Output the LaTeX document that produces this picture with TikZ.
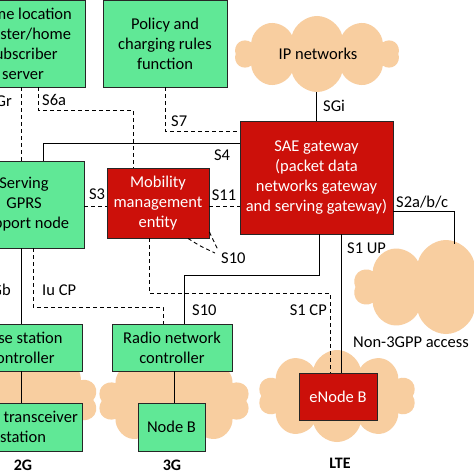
\documentclass[tikz,border=0pt]{standalone}
\usepackage{fontspec}
\setmainfont{Carlito}
\usetikzlibrary{shapes.symbols}
\definecolor{boxgreen}{RGB}{96,232,150}
\definecolor{boxred}{RGB}{204,16,10}
\definecolor{cloudc}{RGB}{248,206,160}
\begin{document}
\begin{tikzpicture}[x=1pt,y=-1pt,
 txt/.style={font=\fontsize{16.5}{20}\selectfont},
 gbox/.style={draw=black!85, line width=0.8pt, fill=boxgreen, align=center, txt, inner sep=0pt},
 rbox/.style={draw=black!85, line width=0.8pt, fill=boxred, text=white, align=center, txt, inner sep=0pt},
 cl/.style={cloud, cloud puffs=10, fill=cloudc, draw=none, inner sep=0pt},
 sl/.style={line width=0.9pt, black},
 dl/.style={line width=0.9pt, black, dash pattern=on 4pt off 3pt},
 lab/.style={txt, inner sep=0pt},
 gen/.style={font=\bfseries\fontsize{16}{18}\selectfont, inner sep=0pt}
]
\path[use as bounding box, clip] (0,0) rectangle (474,474);
\fill[white] (0,0) rectangle (474,474);
% clouds
\node[cl, minimum width=164pt, minimum height=76pt] (ip) at (317,54) {};
\node[txt] (iptxt) at (318,54) {IP networks};
\node[cl, minimum width=185pt, minimum height=94pt] (n3g) at (446,287) {};
\node[cl, minimum width=140pt, minimum height=95pt] (c2g) at (28,400) {};
\node[cl, minimum width=152pt, minimum height=92pt] (c3g) at (174,401) {};
\node[cl, minimum width=158pt, minimum height=92pt] (clte) at (337,396) {};
% boxes
\node[gbox, minimum width=124pt, minimum height=87pt] (hlr) at (23,43.5) {Home location\\register/home\\subscriber\\server};
\node[gbox, minimum width=124pt, minimum height=87pt] (pcrf) at (165,43.5) {Policy and\\charging rules\\function};
\node[rbox, minimum width=153pt, minimum height=113pt] (sae) at (316.5,177.5) {SAE gateway\\(packet data\\networks gateway\\and serving gateway)};
\node[rbox, minimum width=102pt, minimum height=70pt] (mme) at (158,203) {Mobility\\management\\entity};
\node[gbox, minimum width=120pt, minimum height=87pt] (sgsn) at (24,204.5) {Serving\\GPRS\\support node};
\node[gbox, minimum width=120pt, minimum height=47pt] (bsc) at (22,347.5) {Base station\\controller};
\node[gbox, minimum width=118pt, minimum height=48pt] (bts) at (23,427) {Base transceiver\\station};
\node[gbox, minimum width=120pt, minimum height=47pt] (rnc) at (172,347.5) {Radio network\\controller};
\node[gbox, minimum width=67pt, minimum height=48pt] (nodeb) at (171.5,427) {Node B};
\node[rbox, minimum width=78pt, minimum height=47pt] (enb) at (338,396.5) {eNode B};
% connectors
\draw[dl] (hlr.south -| 21,0) -- (sgsn.north -| 21,0);
\draw[dl] (hlr.south -| 38,0) -- ++(0,23) -| (mme.north -| 133,0);
\draw[dl] (pcrf.south -| 165,0) |- (sae.west |- 0,131);
\draw[sl] (sgsn.north -| 43,0) |- (sae.west |- 0,143);
\draw[sl] (ip.south -| 316,0) -- (sae.north -| 316,0);
\draw[dl] (sgsn.east |- 0,206) -- (mme.west |- 0,206);
\draw[dl] (mme.east |- 0,206) -- (sae.west |- 0,206);
\coordinate (s10a) at (215,253);
\coordinate (s10b) at (218,250);
\draw[dl] (mme.south -| 188,0) .. controls (200,246) .. (s10a);
\draw[dl] (mme.east |- 0,232) -- (s10b);
\draw[dl] (mme.south -| 149,0) -- ++(0,55) -| (enb.north -| 330,0);
\draw[dl] (sgsn.south -| 33,0) -- ++(0,59) -| (rnc.north -| 163,0);
\draw[sl] (sgsn.south -| 21,0) -- (bsc.north -| 21,0);
\draw[sl] (sae.south -| 319,0) -- ++(0,41) -| (rnc.north -| 184,0);
\draw[sl] (sae.south -| 341,0) -- (enb.north -| 341,0);
\coordinate (n3gtop) at (454,244);
\draw[sl] (sae.east |- 0,211) -| (n3gtop);
\draw[sl] (bsc.south -| 21,0) -- (bts.north -| 21,0);
\draw[sl] (rnc.south -| 174,0) -- (nodeb.north -| 174,0);
% labels
\node[lab, anchor=east] (lgr) at (12,101) {Gr};
\node[lab, anchor=west] (ls6a) at (42,100) {S6a};
\node[lab, anchor=west] (ls7) at (171,121) {S7};
\node[lab] (ls4) at (222,155) {S4};
\node[lab, anchor=west] (lsgi) at (323,106) {SGi};
\node[lab] (ls3) at (97,194) {S3};
\node[lab] (ls11) at (224,195) {S11};
\node[lab, anchor=west] (ls10a) at (221,258) {S10};
\node[lab, anchor=east] (lgb) at (11,290) {Gb};
\node[lab, anchor=west] (liu) at (42,290) {Iu CP};
\node[lab, anchor=west] (ls10b) at (192,310) {S10};
\node[lab, anchor=east] (ls1cp) at (327,310) {S1 CP};
\node[lab, anchor=west] (ls1up) at (347,248) {S1 UP};
\node[lab, anchor=west] (ls2) at (396,202) {S2a/b/c};
\node[lab, anchor=west] (lnon) at (353,342) {Non-3GPP access};
\node[gen] (g2) at (23,465) {2G};
\node[gen] (g3) at (172,465) {3G};
\node[gen] (glte) at (340,463) {LTE};
\end{tikzpicture}
\end{document}
